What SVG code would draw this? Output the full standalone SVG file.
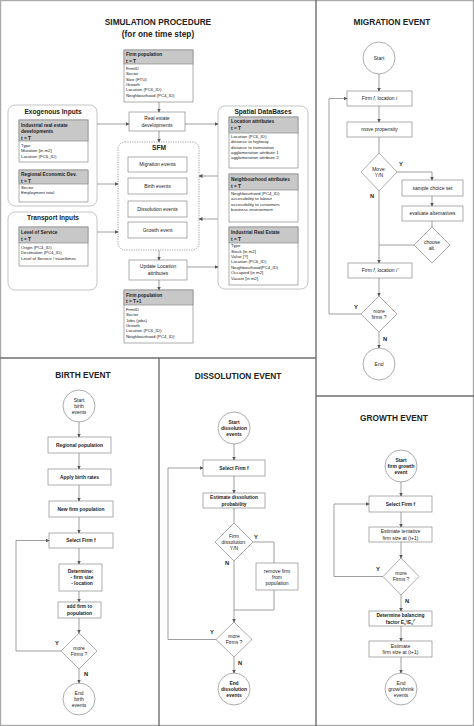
<svg xmlns="http://www.w3.org/2000/svg" width="474" height="726" viewBox="0 0 474 726">
<defs>
<marker id="ah" markerUnits="userSpaceOnUse" markerWidth="4" markerHeight="4" refX="3.5" refY="2" orient="auto">
<path d="M0,0 L4,2 L0,4 Z" fill="#555"/>
</marker>
<style>
.box{fill:#fff;stroke:#8a8a8a;stroke-width:0.7}
.hdr{fill:#c8c8c8;stroke:#8a8a8a;stroke-width:0.7}
.grp{fill:none;stroke:#bdbdbd;stroke-width:0.9}
.sfm{fill:none;stroke:#888;stroke-width:0.8;stroke-dasharray:1.2 1.2}
.dia{fill:#fff;stroke:#8a8a8a;stroke-width:0.7}
.ln{fill:none;stroke:#777;stroke-width:0.7}
.ar{fill:none;stroke:#777;stroke-width:0.7;marker-end:url(#ah)}
.pan{fill:none;stroke:#6e6e6e;stroke-width:1.4}
text{font-family:"Liberation Sans",Arial,sans-serif;fill:#222}
.t{font-size:5px;text-anchor:middle}
.tb{font-size:4.9px;text-anchor:middle;font-weight:bold}
.h{font-size:4.8px;font-weight:bold}
.s{font-size:4.3px}
.ti{font-size:8.3px;font-weight:bold;text-anchor:middle}
.gt{font-size:6.6px;font-weight:bold;text-anchor:middle}
.yn{font-size:5.8px;font-weight:bold;text-anchor:middle}
</style>
</defs>
<rect x="0" y="0" width="474" height="726" fill="#fff"/>
<rect x="0.6" y="0.6" width="472.8" height="724.8" fill="none" stroke="#aaa" stroke-width="1.2"/>
<g id="panels">
<line class="pan" x1="316" y1="0" x2="316" y2="726"/>
<line class="pan" x1="0" y1="358" x2="316" y2="358"/>
<line class="pan" x1="159" y1="358" x2="159" y2="726"/>
<line class="pan" x1="316" y1="396" x2="474" y2="396" stroke="#aaa"/>
</g>
<g id="titles">
<text class="ti" x="158" y="25">SIMULATION PROCEDURE</text>
<text class="ti" x="158" y="36.5">(for one time step)</text>
<text class="ti" x="392" y="25">MIGRATION EVENT</text>
<text class="ti" x="83" y="378">BIRTH EVENT</text>
<text class="ti" x="238" y="379">DISSOLUTION EVENT</text>
<text class="ti" x="394" y="421">GROWTH EVENT</text>
</g>
<!-- SIMULATION PROCEDURE -->
<g id="grp-exo"><rect class="grp" x="8" y="105" width="89" height="101" rx="7"/><text class="gt" x="53" y="113.5">Exogenous Inputs</text></g>
<g id="grp-trans"><rect class="grp" x="8" y="212" width="89" height="78" rx="7"/><text class="gt" x="53" y="220">Transport Inputs</text></g>
<g id="grp-spatial"><rect class="grp" x="218" y="106" width="90" height="183" rx="7"/><text class="gt" x="263" y="114">Spatial DataBases</text></g>
<g id="sfm"><rect class="sfm" x="118" y="142" width="81" height="108" rx="7"/><text class="gt" x="159" y="150">SFM</text></g>
<g id="firmpopT">
<rect class="box" x="124" y="50" width="69" height="52"/><rect class="hdr" x="124" y="50" width="69" height="14"/>
<text class="h" x="126" y="56">Firm population</text><text class="h" x="126" y="62.5">t = T</text>
<text class="s" x="126" y="69.5">FirmID</text><text class="s" x="126" y="75">Sector</text><text class="s" x="126" y="80.5">Size (FTU)</text><text class="s" x="126" y="85.5">Growth</text><text class="s" x="126" y="91">Location (PC6_ID)</text><text class="s" x="126" y="96.5">Neighbourhood (PC4_ID)</text>
</g>
<g id="realestate"><rect class="box" x="129" y="112" width="56" height="19"/><text class="t" x="157" y="119.5">Real estate</text><text class="t" x="157" y="126.5">developments</text></g>
<g id="indredev">
<rect class="box" x="19" y="120" width="69" height="42"/><rect class="hdr" x="19" y="120" width="69" height="21"/>
<text class="h" x="21" y="126.5">Industrial real estate</text><text class="h" x="21" y="133">developments</text><text class="h" x="21" y="139.5">t = T</text>
<text class="s" x="21" y="146.5">Type</text><text class="s" x="21" y="152">Mutation [in m2]</text><text class="s" x="21" y="157.5">Location (PC6_ID)</text>
</g>
<g id="regecon">
<rect class="box" x="19" y="170" width="69" height="32"/><rect class="hdr" x="19" y="170" width="69" height="14"/>
<text class="h" x="21" y="176">Regional Economic Dev.</text><text class="h" x="21" y="182.5">t = T</text>
<text class="s" x="21" y="188.5">Sector</text><text class="s" x="21" y="194">Employment total</text>
</g>
<g id="los">
<rect class="box" x="19" y="227" width="69" height="39"/><rect class="hdr" x="19" y="227" width="69" height="16"/>
<text class="h" x="21" y="233.5">Level of Service</text><text class="h" x="21" y="240.5">t = T</text>
<text class="s" x="21" y="248.5">Origin (PC4_ID)</text><text class="s" x="21" y="254">Destination (PC4_ID)</text><text class="s" x="21" y="259.5">Level of Service / traveltimes</text>
</g>
<g id="sfm-mig"><rect class="box" x="128" y="157" width="59" height="15"/><text class="t" x="157.5" y="166.3">Migration events</text></g>
<g id="sfm-birth"><rect class="box" x="128" y="178" width="59" height="16"/><text class="t" x="157.5" y="187.8">Birth events</text></g>
<g id="sfm-diss"><rect class="box" x="128" y="201" width="59" height="16"/><text class="t" x="157.5" y="210.8">Dissolution events</text></g>
<g id="sfm-growth"><rect class="box" x="128" y="222" width="59" height="16"/><text class="t" x="157.5" y="231.8">Growth event</text></g>
<g id="update"><rect class="box" x="129" y="260" width="58" height="20"/><text class="t" x="158" y="267.5">Update Location</text><text class="t" x="158" y="274.5">attributes</text></g>
<g id="firmpopT1">
<rect class="box" x="124" y="290" width="69" height="53"/><rect class="hdr" x="124" y="290" width="69" height="15"/>
<text class="h" x="126" y="296.5">Firm population</text><text class="h" x="126" y="303">t = T+1</text>
<text class="s" x="126" y="310.5">FirmID</text><text class="s" x="126" y="316">Sector</text><text class="s" x="126" y="321.5">Jobs (jobs)</text><text class="s" x="126" y="326.5">Growth</text><text class="s" x="126" y="332">Location (PC6_ID)</text><text class="s" x="126" y="337.5">Neighbourhood (PC4_ID)</text>
</g>
<g id="locattr">
<rect class="box" x="229" y="117" width="69" height="51"/><rect class="hdr" x="229" y="117" width="69" height="16"/>
<text class="h" x="231" y="123">Location attributes</text><text class="h" x="231" y="129.5">t = T</text>
<text class="s" x="231" y="137.5">Location (PC6_ID)</text><text class="s" x="231" y="143">distance to highway</text><text class="s" x="231" y="148.5">distance to trainstation</text><text class="s" x="231" y="153.5">agglomeration attribute 1</text><text class="s" x="231" y="159">agglomeration attribute 2</text>
</g>
<g id="nbhattr">
<rect class="box" x="229" y="174" width="69" height="48"/><rect class="hdr" x="229" y="174" width="69" height="16"/>
<text class="h" x="231" y="181">Neighbourhood attributes</text><text class="h" x="231" y="187.5">t = T</text>
<text class="s" x="231" y="194.5">Neighbourhood (PC4_ID)</text><text class="s" x="231" y="200">accessibility to labour</text><text class="s" x="231" y="205.5">accessibility to customers</text><text class="s" x="231" y="211">business environment</text>
</g>
<g id="indre">
<rect class="box" x="229" y="227" width="69" height="58"/><rect class="hdr" x="229" y="227" width="69" height="16"/>
<text class="h" x="231" y="233.5">Industrial Real Estate</text><text class="h" x="231" y="240.5">t = T</text>
<text class="s" x="231" y="247">Type</text><text class="s" x="231" y="252.5">Stock [in m2]</text><text class="s" x="231" y="258">Value [?]</text><text class="s" x="231" y="263">Location (PC6_ID)</text><text class="s" x="231" y="268.5">Neighbourhood(PC4_ID)</text><text class="s" x="231" y="274">Occupied [in m2]</text><text class="s" x="231" y="279.5">Vacant [in m2]</text>
</g>
<!-- MIGRATION -->
<g id="m-start"><circle class="dia" cx="379" cy="58" r="16"/><text class="t" x="379" y="59.7">Start</text></g>
<g id="m-firm"><rect class="box" x="347" y="91" width="65" height="15"/><text class="t" x="379.5" y="100.2">Firm <tspan font-style="italic">f</tspan>, location <tspan font-style="italic">i</tspan></text></g>
<g id="m-prop"><rect class="box" x="347" y="122" width="65" height="15"/><text class="t" x="379.5" y="131.2">move propensity</text></g>
<g id="m-move"><path class="dia" d="M379,153 L397,172 L379,191 L361,172 Z"/><text class="t" x="379" y="170.5">Move:</text><text class="t" x="379" y="177">Y/N</text></g>
<g id="m-sample"><rect class="box" x="402" y="180" width="61" height="16"/><text class="t" x="432.5" y="189.7">sample choice set</text></g>
<g id="m-eval"><rect class="box" x="402" y="206" width="61" height="15"/><text class="t" x="432.5" y="215.2">evaluate alternatives</text></g>
<g id="m-choose"><path class="dia" d="M432,227 L450,245 L432,263 L414,245 Z"/><text class="t" x="432" y="243.5">choose</text><text class="t" x="432" y="250">alt.</text></g>
<g id="m-firm2"><rect class="box" x="348" y="263" width="64" height="15"/><text class="t" x="380" y="272.2">Firm <tspan font-style="italic">f</tspan>, location <tspan font-style="italic">i'</tspan></text></g>
<g id="m-more"><path class="dia" d="M379,296 L397,314 L379,332 L361,314 Z"/><text class="t" x="379" y="312.5">more</text><text class="t" x="379" y="319">firms ?</text></g>
<g id="m-end"><circle class="dia" cx="379" cy="364" r="16"/><text class="t" x="379" y="365.7">End</text></g>
<!-- BIRTH -->
<g id="b-start"><circle class="dia" cx="79" cy="406" r="16"/><text class="t" x="79" y="401.5">Start</text><text class="t" x="79" y="407.5">birth</text><text class="t" x="79" y="413.5">events</text></g>
<g id="b-reg"><rect class="box" x="48" y="437" width="63" height="16"/><text class="tb" x="79.5" y="446.7">Regional population</text></g>
<g id="b-apply"><rect class="box" x="48" y="469" width="63" height="16"/><text class="tb" x="79.5" y="478.7">Apply birth rates</text></g>
<g id="b-new"><rect class="box" x="49" y="501" width="64" height="16"/><text class="tb" x="81" y="510.7">New firm population</text></g>
<g id="b-select"><rect class="box" x="49" y="533" width="64" height="15"/><text class="tb" x="81" y="542.2">Select Firm f</text></g>
<g id="b-det"><rect class="box" x="59" y="564" width="43" height="27"/><text class="tb" x="80.5" y="572.5">Determine:</text><text class="tb" x="82" y="578.5">- firm size</text><text class="tb" x="82" y="584.5">- location</text></g>
<g id="b-add"><rect class="box" x="58" y="602" width="43" height="16"/><text class="tb" x="79.5" y="608">add firm to</text><text class="tb" x="79.5" y="614.5">population</text></g>
<g id="b-more"><path class="dia" d="M79,633 L97,651 L79,669 L61,651 Z"/><text class="t" x="79" y="649.5">more</text><text class="t" x="79" y="656">Firms ?</text></g>
<g id="b-end"><circle class="dia" cx="79" cy="699" r="16"/><text class="t" x="79" y="694.5">End</text><text class="t" x="79" y="700.5">birth</text><text class="t" x="79" y="706.5">events</text></g>
<!-- DISSOLUTION -->
<g id="d-start"><circle class="dia" cx="234" cy="428" r="16"/><text class="tb" x="234" y="423.5">Start</text><text class="tb" x="234" y="429.5">dissolution</text><text class="tb" x="234" y="435.5">events</text></g>
<g id="d-select"><rect class="box" x="203" y="460" width="62" height="16"/><text class="tb" x="234" y="469.7">Select Firm f</text></g>
<g id="d-est"><rect class="box" x="203" y="493" width="62" height="15"/><text class="tb" x="234" y="499">Estimate dissolution</text><text class="tb" x="234" y="505.5">probability</text></g>
<g id="d-diss"><path class="dia" d="M234,523 L253,542 L234,561 L215,542 Z"/><text class="t" x="234" y="537.5">Firm</text><text class="t" x="234" y="543.5">dissolution:</text><text class="t" x="234" y="549.5">Y/N</text></g>
<g id="d-remove"><rect class="box" x="256" y="563" width="42" height="27"/><text class="t" x="277" y="572.5">remove firm</text><text class="t" x="277" y="578.5">from</text><text class="t" x="277" y="584.5">population</text></g>
<g id="d-more"><path class="dia" d="M234,622 L252,639.5 L234,657 L216,639.5 Z"/><text class="t" x="234" y="637.5">more</text><text class="t" x="234" y="644">Firms ?</text></g>
<g id="d-end"><circle class="dia" cx="234" cy="689" r="16"/><text class="tb" x="234" y="684.5">End</text><text class="tb" x="234" y="690.5">dissolution</text><text class="tb" x="234" y="696.5">events</text></g>
<!-- GROWTH -->
<g id="g-start"><circle class="dia" cx="401" cy="466" r="16"/><text class="tb" x="401" y="461.5">Start</text><text class="tb" x="401" y="467.5">firm growth</text><text class="tb" x="401" y="473.5">event</text></g>
<g id="g-select"><rect class="box" x="369" y="496" width="63" height="16"/><text class="tb" x="400.5" y="505.7">Select Firm f</text></g>
<g id="g-est"><rect class="box" x="369" y="527" width="63" height="15"/><text class="t" x="400.5" y="533">Estimate tentative</text><text class="t" x="400.5" y="539.5">firm size at (t+1)</text></g>
<g id="g-more"><path class="dia" d="M401,558 L419,576.5 L401,595 L383,576.5 Z"/><text class="t" x="401" y="574.5">more</text><text class="t" x="401" y="581">Firms ?</text></g>
<g id="g-det"><rect class="box" x="369" y="611" width="63" height="15"/><text class="tb" x="400.5" y="617">Determine balancing</text><text class="tb" x="400.5" y="623.5">factor E<tspan font-size="3px" dy="1">s</tspan><tspan font-size="3px" dy="-2.5">t</tspan><tspan dy="1.5">/E</tspan><tspan font-size="3px" dy="1">s</tspan><tspan font-size="3px" dy="-2.5">t*</tspan></text></g>
<g id="g-est2"><rect class="box" x="369" y="641" width="63" height="16"/><text class="t" x="400.5" y="647.5">Estimate</text><text class="t" x="400.5" y="654">firm size at (t+1)</text></g>
<g id="g-end"><circle class="dia" cx="401" cy="689" r="16"/><text class="t" x="401" y="684.5">End</text><text class="t" x="401" y="690.5">grow/shrink</text><text class="t" x="401" y="696.5">events</text></g>
<g id="connectors">
<!-- simulation -->
<path class="ar" d="M159,102 V112"/>
<path class="ar" d="M97,124 H129"/>
<path class="ar" d="M185,124 H218"/>
<path class="ar" d="M159,131 V142"/>
<path class="ar" d="M97,184 H118"/>
<path class="ar" d="M97,232 H118"/>
<path class="ar" d="M218,176 H199"/>
<path class="ar" d="M218,219 H199"/>
<path class="ar" d="M159,250 V260"/>
<path class="ar" d="M187,267 H218"/>
<path class="ar" d="M159,280 V290"/>
<!-- migration -->
<path class="ar" d="M379,74 V91"/>
<path class="ar" d="M379,106 V122"/>
<path class="ln" d="M379,137 V153"/>
<path class="ar" d="M397,172 H432 V180"/>
<path class="ar" d="M432,196 V206"/>
<path class="ln" d="M432,221 V227"/>
<path class="ln" d="M414,245 H379"/>
<path class="ar" d="M379,191 V263"/>
<path class="ar" d="M379,278 V296"/>
<path class="ar" d="M361,314 H329 V98.5 H347"/>
<path class="ar" d="M379,332 V348"/>
<!-- birth -->
<path class="ar" d="M79,422 V437"/>
<path class="ar" d="M79,453 V469"/>
<path class="ar" d="M79,485 V501"/>
<path class="ar" d="M79,517 V533"/>
<path class="ar" d="M79,548 V564"/>
<path class="ar" d="M79,591 V602"/>
<path class="ar" d="M79,618 V633"/>
<path class="ar" d="M61,651 H16 V540.5 H49"/>
<path class="ar" d="M79,669 V683"/>
<!-- dissolution -->
<path class="ar" d="M234,444 V460"/>
<path class="ar" d="M234,476 V493"/>
<path class="ln" d="M234,508 V523"/>
<path class="ln" d="M253,542 H274 V563"/>
<path class="ln" d="M274,590 V610 H234"/>
<path class="ar" d="M234,561 V622"/>
<path class="ar" d="M216,639.5 H168 V468 H203"/>
<path class="ar" d="M234,657 V673"/>
<!-- growth -->
<path class="ar" d="M401,482 V496"/>
<path class="ar" d="M401,512 V527"/>
<path class="ar" d="M401,542 V558"/>
<path class="ar" d="M383,576.5 H334 V504 H369"/>
<path class="ar" d="M401,595 V611"/>
<path class="ar" d="M401,626 V641"/>
<path class="ar" d="M401,657 V673"/>
</g>
<g id="labels">
<text class="yn" x="401" y="166">Y</text>
<text class="yn" x="372" y="198">N</text>
<text class="yn" x="356" y="309">Y</text>
<text class="yn" x="385" y="341">N</text>
<text class="yn" x="57" y="645">Y</text>
<text class="yn" x="86" y="676">N</text>
<text class="yn" x="256" y="539">Y</text>
<text class="yn" x="227" y="565">N</text>
<text class="yn" x="212" y="634">Y</text>
<text class="yn" x="240" y="665">N</text>
<text class="yn" x="378" y="571">Y</text>
<text class="yn" x="407" y="603">N</text>
</g>
</svg>
